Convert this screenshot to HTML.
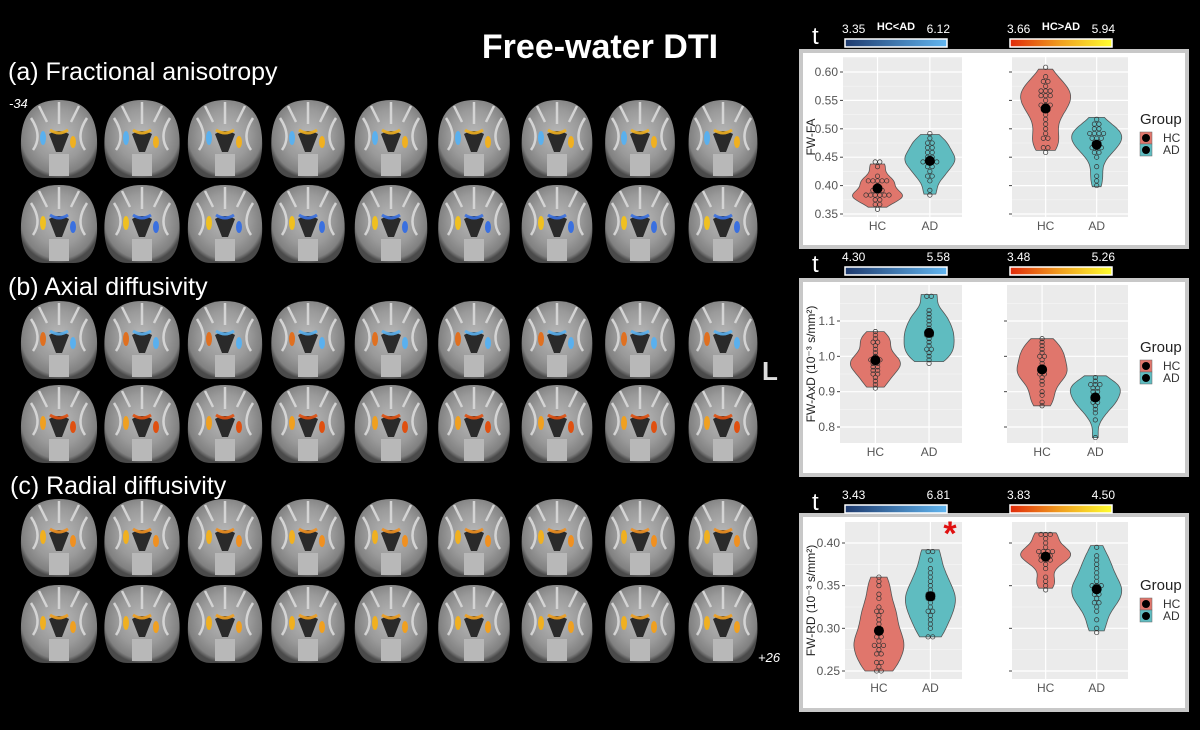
<!DOCTYPE html>
<html><head><meta charset="utf-8"><style>
html,body{margin:0;padding:0;background:#000;}
svg{display:block;font-family:"Liberation Sans",sans-serif;}
</style></head><body>
<svg id="s" width="1200" height="730" viewBox="0 0 1200 730" xmlns="http://www.w3.org/2000/svg">
<defs>
<radialGradient id="brainG" cx="50%" cy="45%" r="55%">
<stop offset="0" stop-color="#b8b8b8"/><stop offset="0.6" stop-color="#9a9a9a"/><stop offset="0.9" stop-color="#808080"/><stop offset="1" stop-color="#4a4a4a"/>
</radialGradient>
<linearGradient id="blueBar" x1="0" x2="1"><stop offset="0" stop-color="#1e3a6e"/><stop offset="1" stop-color="#62b6f0"/></linearGradient>
<linearGradient id="redBar" x1="0" x2="1"><stop offset="0" stop-color="#e02a0a"/><stop offset="0.5" stop-color="#f0a020"/><stop offset="1" stop-color="#ffff30"/></linearGradient>
</defs>
<text x="600" y="58" fill="#fff" font-size="34" font-weight="bold" text-anchor="middle">Free-water DTI</text>
<text x="8" y="80" fill="#fff" font-size="25">(a) Fractional anisotropy</text>
<text x="8" y="295" fill="#fff" font-size="25">(b) Axial diffusivity</text>
<text x="10" y="494" fill="#fff" font-size="25">(c) Radial diffusivity</text>
<text x="9" y="108" fill="#fff" font-size="13" font-style="italic">-34</text>
<text x="758" y="662" fill="#fff" font-size="13" font-style="italic">+26</text>
<text x="762" y="380" fill="#ddd" font-size="26" font-weight="bold">L</text>
<g id="brains"></g>
<g id="panels"></g>
</svg>
<script>
const NS="http://www.w3.org/2000/svg";
const svg=document.getElementById('s');
function mk(tag,attrs,parent){const e=document.createElementNS(NS,tag);for(const k in attrs)e.setAttribute(k,attrs[k]);(parent||svg).appendChild(e);return e;}

// ---- brain slices ----
const rowCenters=[140,225,341,425,539,625];
const rowBlob=[['#5ab0ee','#f0b020'],['#f0c020','#3a70e0'],['#e07020','#5ab0ee'],['#f0a020','#e05010'],['#f0b020','#f09020'],['#f0b020','#f0a020']];
const bg=document.getElementById('brains');
for(let r=0;r<6;r++){
  for(let i=0;i<9;i++){
    const cx=59+83*i, cy=rowCenters[r];
    const sc=1-i*0.012;
    const g=mk('g',{},bg);
    
    
    mk('path',{d:`M${cx-38*sc} ${cy+8} Q${cx-40*sc} ${cy-40} ${cx} ${cy-40} Q${cx+40*sc} ${cy-40} ${cx+38*sc} ${cy+8} Q${cx+36*sc} ${cy+38} ${cx+14} ${cy+38} L${cx-14} ${cy+38} Q${cx-36*sc} ${cy+38} ${cx-38*sc} ${cy+8} Z`,fill:'url(#brainG)'},g);
    mk('rect',{x:cx-10,y:cy+14,width:20,height:22,fill:'#b8b8b8'},g);
    mk('path',{d:`M${cx-10} ${cy-6} Q${cx} ${cy-12} ${cx+10} ${cy-6} L${cx+3} ${cy+12} L${cx-3} ${cy+12} Z`,fill:'#2a2a2a'},g);
    mk('path',{d:`M${cx-28} ${cy-22} Q${cx-16} ${cy-4} ${cx-26} ${cy+10} M${cx+28} ${cy-22} Q${cx+16} ${cy-4} ${cx+26} ${cy+10} M${cx} ${cy-38} L${cx} ${cy-16} M${cx-20} ${cy-34} L${cx-12} ${cy-18} M${cx+20} ${cy-34} L${cx+12} ${cy-18}`,stroke:'#d4d4d4','stroke-width':2.5,fill:'none'},g);
    mk('ellipse',{cx:cx-16,cy:cy-2,rx:3,ry:7,fill:rowBlob[r][0]},g);
    mk('ellipse',{cx:cx+14,cy:cy+2,rx:3,ry:6,fill:rowBlob[r][1]},g);
    mk('path',{d:`M${cx-9} ${cy-10} Q${cx} ${cy-4} ${cx+9} ${cy-10}`,stroke:rowBlob[r][1],'stroke-width':3,fill:'none',opacity:0.9},g);
  }
}

// ---- violin data ----
const groups=['HC','AD'];
const p1_L_HC=[0.362,0.365,0.37,0.375,0.378,0.38,0.38,0.38,0.382,0.385,0.385,0.388,0.39,0.395,0.40,0.405,0.405,0.408,0.41,0.412,0.42,0.43,0.438,0.438];
const p1_L_AD=[0.385,0.39,0.41,0.415,0.42,0.425,0.43,0.435,0.44,0.442,0.445,0.445,0.45,0.452,0.455,0.46,0.465,0.47,0.475,0.478,0.48,0.49];
const p1_R_HC=[0.462,0.465,0.47,0.48,0.485,0.49,0.50,0.51,0.52,0.525,0.53,0.535,0.54,0.545,0.545,0.55,0.555,0.56,0.56,0.565,0.565,0.57,0.575,0.58,0.585,0.59,0.605];
const p1_R_AD=[0.398,0.41,0.42,0.435,0.45,0.455,0.46,0.465,0.468,0.47,0.475,0.478,0.48,0.482,0.485,0.488,0.49,0.495,0.495,0.498,0.50,0.505,0.505,0.52];
const p2_L_HC=[0.913,0.92,0.93,0.94,0.95,0.955,0.96,0.965,0.97,0.975,0.98,0.985,0.99,0.99,0.995,1.0,1.01,1.02,1.03,1.04,1.045,1.05,1.06,1.07];
const p2_L_AD=[0.985,0.99,1.0,1.01,1.02,1.025,1.03,1.04,1.05,1.06,1.065,1.07,1.08,1.09,1.10,1.11,1.12,1.13,1.175,1.175];
const p2_R_HC=[0.86,0.87,0.89,0.9,0.92,0.93,0.94,0.95,0.95,0.96,0.96,0.97,0.98,0.99,1.0,1.0,1.01,1.02,1.03,1.04,1.05];
const p2_R_AD=[0.77,0.82,0.84,0.85,0.86,0.87,0.87,0.88,0.88,0.89,0.9,0.9,0.91,0.91,0.92,0.92,0.92,0.93,0.945];
const p3_L_HC=[0.25,0.25,0.255,0.26,0.26,0.27,0.27,0.275,0.28,0.28,0.28,0.285,0.29,0.29,0.295,0.30,0.305,0.31,0.315,0.32,0.32,0.325,0.335,0.34,0.35,0.355,0.36];
const p3_L_AD=[0.29,0.29,0.30,0.305,0.31,0.315,0.32,0.32,0.325,0.33,0.335,0.335,0.34,0.34,0.345,0.35,0.355,0.36,0.365,0.37,0.38,0.392,0.392];
const p3_R_HC=[0.347,0.352,0.355,0.36,0.37,0.375,0.378,0.38,0.382,0.385,0.385,0.387,0.388,0.39,0.39,0.392,0.395,0.40,0.405,0.41,0.412,0.412];
const p3_R_AD=[0.297,0.30,0.31,0.32,0.325,0.33,0.332,0.335,0.34,0.34,0.345,0.348,0.35,0.35,0.355,0.36,0.365,0.37,0.375,0.38,0.385,0.397];
const p1_ticks=[0.35,0.40,0.45,0.50,0.55,0.60];
const p1_tickLabels=['0.35','0.40','0.45','0.50','0.55','0.60'];
const p2_ticks=[0.8,0.9,1.0,1.1];
const p2_tickLabels=['0.8','0.9','1.0','1.1'];
const p3_ticks=[0.25,0.30,0.35,0.40];
const p3_tickLabels=['0.25','0.30','0.35','0.40'];
const p1_scale=['3.35','HC<AD','6.12','3.66','HC>AD','5.94'];
const p2_scale=['4.30','','5.58','3.48','','5.26'];
const p3_scale=['3.43','','6.81','3.83','','4.50'];

const panels=[
 {name:'fa',box:[801,51,386,196],plotY:[57,217],lx:[843,962],rx:[1012,1128],ref:[0.60,72,0.35,214],ticks:p1_ticks,labels:p1_tickLabels,data:[[p1_L_HC,p1_L_AD],[p1_R_HC,p1_R_AD]],scale:p1_scale,barY:39,ytitle:'FW-FA',legendY:124,star:false},
 {name:'axd',box:[801,280,386,195],plotY:[285,443],lx:[840,962],rx:[1007,1128],ref:[1.1,321,0.8,427],ticks:p2_ticks,labels:p2_tickLabels,data:[[p2_L_HC,p2_L_AD],[p2_R_HC,p2_R_AD]],scale:p2_scale,barY:267,ytitle:'FW-AxD',legendY:352,star:false},
 {name:'rd',box:[801,515,386,195],plotY:[522,679],lx:[845,962],rx:[1012,1128],ref:[0.40,543,0.25,671],ticks:p3_ticks,labels:p3_tickLabels,data:[[p3_L_HC,p3_L_AD],[p3_R_HC,p3_R_AD]],scale:p3_scale,barY:505,ytitle:'FW-RD',legendY:590,star:true}
];
const fills=['#e0766c','#5fbcc0'];
const pg=document.getElementById('panels');

function kde(vals,y,bw){let s=0;for(const v of vals){const z=(y-v)/bw;s+=Math.exp(-0.5*z*z);}return s;}

panels.forEach(p=>{
  const g=mk('g',{},pg);
  
  
  const [bx,by,bw,bh]=p.box;
  mk('rect',{x:bx,y:by,width:bw,height:bh,fill:'#fff',stroke:'#c8c8c8','stroke-width':4},g);
  const yS=v=>p.ref[1]+(v-p.ref[0])*(p.ref[3]-p.ref[1])/(p.ref[2]-p.ref[0]);
  const tl=mk('text',{x:812,y:p.barY+5,fill:'#fff','font-size':24},g);tl.textContent='t';
  
  
  [[845,'url(#blueBar)',0],[1010,'url(#redBar)',3]].forEach(([x0,f,k])=>{
    const cb=mk('rect',{x:x0,y:p.barY,width:102,height:8,fill:f,stroke:'#fff','stroke-width':1.5},g);
    
    
    const a=mk('text',{x:x0-3,y:p.barY-6,fill:'#fff','font-size':12},g);a.textContent=p.scale[k];
    const b=mk('text',{x:x0+105,y:p.barY-6,fill:'#fff','font-size':12,'text-anchor':'end'},g);b.textContent=p.scale[k+2];
    if(p.scale[k+1]){const c=mk('text',{x:x0+51,y:p.barY-9,fill:'#fff','font-size':11,'font-weight':'bold','text-anchor':'middle'},g);c.textContent=p.scale[k+1];}
  });
  [p.lx,p.rx].forEach((xr,side)=>{
    const [x0,x1]=xr,[y0,y1]=p.plotY;
    const pa=mk('rect',{x:x0,y:y0,width:x1-x0,height:y1-y0,fill:'#ebebeb'},g);
    
    
    const step=p.ticks[1]-p.ticks[0];
    for(let i=0;i<p.ticks.length;i++){
      const t=p.ticks[i],yy=yS(t);
      mk('line',{x1:x0,x2:x1,y1:yy,y2:yy,stroke:'#fff','stroke-width':1.2},g);
      const ym=yS(t+step/2); if(ym>y0&&ym<y1) mk('line',{x1:x0,x2:x1,y1:ym,y2:ym,stroke:'#f6f6f6','stroke-width':0.6},g);
      const ym2=yS(t-step/2); if(i===0&&ym2>y0&&ym2<y1) mk('line',{x1:x0,x2:x1,y1:ym2,y2:ym2,stroke:'#f6f6f6','stroke-width':0.6},g);
      mk('line',{x1:x0-3,x2:x0,y1:yy,y2:yy,stroke:'#444','stroke-width':1},g);
      if(side===0){const tx=mk('text',{x:x0-5,y:yy+4,fill:'#555','font-size':12,'text-anchor':'end'},g);tx.textContent=p.labels[i];
        }
    }
    const gx=[x0+(x1-x0)*0.29,x0+(x1-x0)*0.73];
    groups.forEach((gn,k)=>{
      const cx=gx[k];
      mk('line',{x1:cx,x2:cx,y1:y0,y2:y1,stroke:'#fff','stroke-width':1.2},g);
      const xl=mk('text',{x:cx,y:y1+13,fill:'#555','font-size':12,'text-anchor':'middle'},g);xl.textContent=gn;
      
      const vals=p.data[side][k];
      const mn=Math.min(...vals),mx=Math.max(...vals),bwid=(mx-mn)*0.12;
      const N=40;let dens=[],mxd=0;
      for(let j=0;j<=N;j++){const v=mn+(mx-mn)*j/N;const d=kde(vals,v,bwid);dens.push([v,d]);if(d>mxd)mxd=d;}
      const W=25;
      let d='';dens.forEach(([v,dd],j)=>{d+=(j?'L':'M')+(cx+W*dd/mxd).toFixed(1)+' '+yS(v).toFixed(1);});
      for(let j=N;j>=0;j--){const [v,dd]=dens[j];d+='L'+(cx-W*dd/mxd).toFixed(1)+' '+yS(v).toFixed(1);}
      const vio=mk('path',{d:d+'Z',fill:fills[k],stroke:'#555','stroke-width':0.8},g);
      
      
      const bin=(p.ref[0]-p.ref[2])/30;const bins={};
      vals.forEach(v=>{const b=Math.round(v/bin);(bins[b]=bins[b]||[]).push(v);});
      for(const b in bins){const n=bins[b].length;bins[b].forEach((v,m)=>{
        const dot=mk('circle',{cx:cx+(m-(n-1)/2)*4.6,cy:yS(b*bin),r:2.2,fill:'none',stroke:'#333','stroke-width':0.7},g);
        
      });}
      const mean=vals.reduce((a,b)=>a+b,0)/vals.length;
      const md=mk('circle',{cx:cx,cy:yS(mean),r:5,fill:'#000'},g);
      
      
    });
  });
  if(p.star){const st=mk('text',{x:950,y:545,fill:'#e01010','font-size':34,'font-weight':'bold','text-anchor':'middle'},g);st.textContent='*';
    }
  const yt=mk('text',{transform:`translate(815,${(p.plotY[0]+p.plotY[1])/2}) rotate(-90)`,fill:'#222','font-size':12,'text-anchor':'middle'},g);
  yt.textContent=p.ytitle+(p.name==='fa'?'':' (10\u207B\u00B3 s/mm\u00B2)');
  
  const lg=mk('g',{},g);
  
  const lt=mk('text',{x:1140,y:p.legendY,fill:'#222','font-size':15},lg);lt.textContent='Group';
  groups.forEach((gn,k)=>{
    const ky=p.legendY+8+k*12;
    mk('rect',{x:1140,y:ky,width:12,height:12,fill:fills[k],stroke:'#666','stroke-width':0.5},lg);
    mk('circle',{cx:1146,cy:ky+6,r:4,fill:'#000'},lg);
    const t=mk('text',{x:1163,y:ky+10,fill:'#333','font-size':12},lg);t.textContent=gn;
    
  });
});
</script>
</body></html>
